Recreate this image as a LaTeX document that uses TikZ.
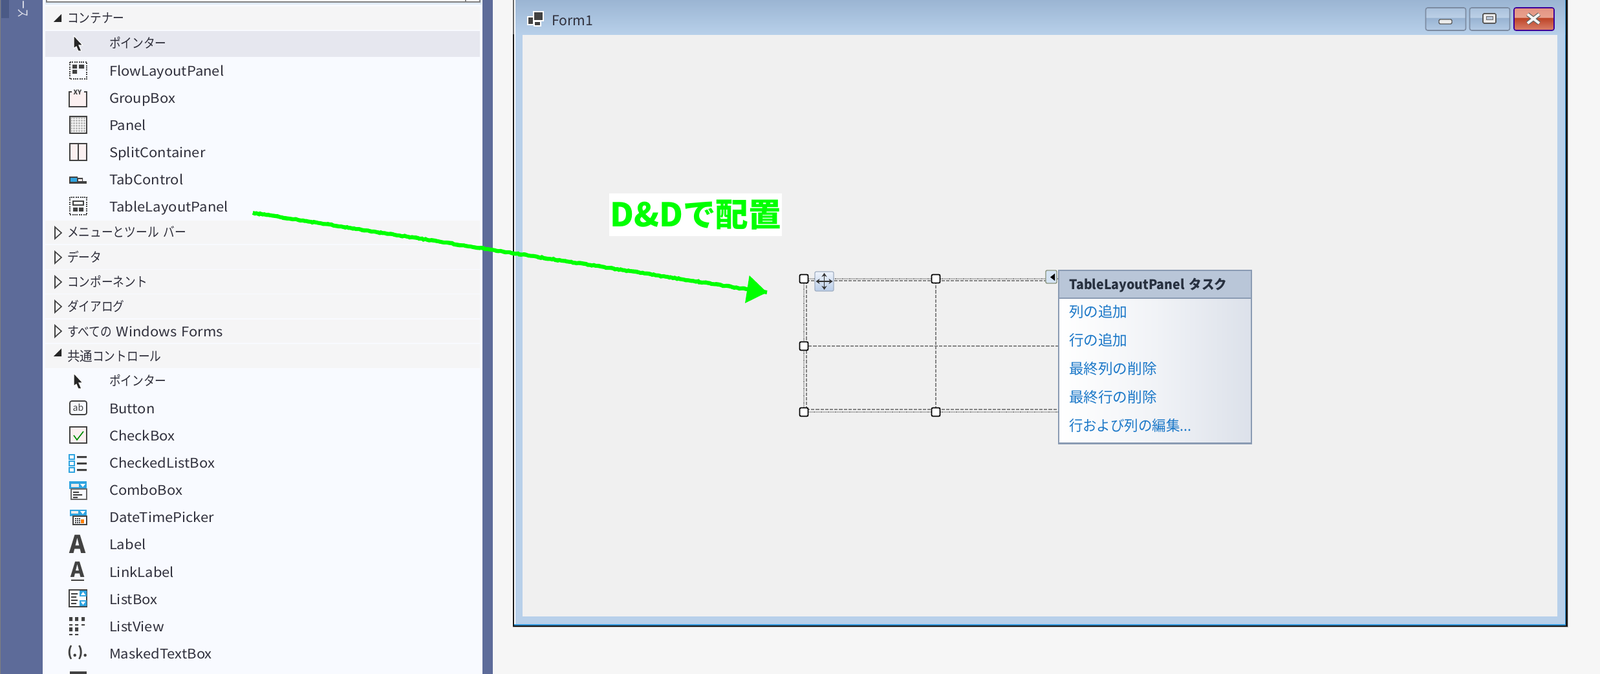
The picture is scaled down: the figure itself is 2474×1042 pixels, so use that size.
\documentclass[tikz,border=0pt]{standalone}
\usepackage{fontspec}
\setmainfont{Noto Sans CJK JP}
\newfontfamily\latinfont[FakeStretch=1.07]{Noto Sans CJK JP}
\newfontfamily\kanafont[FakeStretch=.86]{Noto Sans CJK JP}
\newfontfamily\taskfont[FakeStretch=.95]{Noto Sans CJK JP}
\newfontfamily\sidefont[FakeStretch=.68]{Noto Sans CJK JP}
\usetikzlibrary{arrows,arrows.meta,decorations.pathmorphing,positioning,shapes}

\definecolor{pagebg}{HTML}{F6F6F6}
\definecolor{sidebar}{HTML}{5D6B99}
\definecolor{sidetab}{HTML}{4B5A86}
\definecolor{toolbg}{HTML}{F8FAFF}
\definecolor{catbg}{HTML}{F5F5F6}
\definecolor{selrow}{HTML}{E6E7EF}
\definecolor{ink}{HTML}{30303C}
\definecolor{icondark}{HTML}{424242}
\definecolor{iconblue}{HTML}{2FA4E0}
\definecolor{iconpink}{HTML}{FBF0F0}
\definecolor{frameblue}{HTML}{B8D0EA}
\definecolor{titletop}{HTML}{9BB5D3}
\definecolor{clientbg}{HTML}{F0F0F0}
\definecolor{gridgray}{HTML}{858585}
\definecolor{taskhead}{HTML}{B9C6D8}
\definecolor{taskedge}{HTML}{8A9BB3}
\definecolor{taskside}{HTML}{DCE1EA}
\definecolor{tasklink}{HTML}{1C78C8}
\definecolor{taskink}{HTML}{27303F}
\definecolor{movetop}{HTML}{EEF3FB}
\definecolor{movelow}{HTML}{B8CCE8}
\definecolor{dragcol}{HTML}{00FF00}
\definecolor{btnlow}{HTML}{B4CBE5}
\definecolor{btnmid}{HTML}{97B2D1}
\definecolor{btnhigh}{HTML}{BCD0E7}
\definecolor{btntop}{HTML}{A9C1DC}
\definecolor{redlow}{HTML}{DB826C}
\definecolor{redmid}{HTML}{BC4225}
\definecolor{redhigh}{HTML}{E8A18F}
\definecolor{redtop}{HTML}{E39381}

\pgfdeclareverticalshading{bluebutton}{100bp}{color(0bp)=(btnlow);
  color(25bp)=(btnlow); color(53bp)=(btnmid); color(53.5bp)=(btnhigh);
  color(75bp)=(btntop); color(100bp)=(btntop)}
\pgfdeclareverticalshading{redbutton}{100bp}{color(0bp)=(redlow);
  color(25bp)=(redlow); color(53bp)=(redmid); color(53.5bp)=(redhigh);
  color(75bp)=(redtop); color(100bp)=(redtop)}

\tikzset{
  tool item/.style={text width=280pt,inner sep=0pt,align=left,text=ink,
    font=\fontsize{10.3}{12}\selectfont\latinfont,text height=9pt,text depth=1pt,node distance=21.08pt},
  cat item/.style={text width=302pt,inner ysep=0pt,inner xsep=17pt,minimum height=18.4pt,align=left,
    fill=catbg,text=ink,font=\fontsize{10.3}{12}\selectfont\kanafont,text height=9pt,text depth=1pt,node distance=19.13pt},
  icon text/.style={inner sep=0pt,text=icondark},
  win button/.style={draw,shade,minimum width=31pt,minimum height=17.5pt,inner sep=0pt,rounded corners=1.5pt,line width=.8pt},
  grip/.style={draw=black,fill=white,rounded corners=1pt,line width=.9pt,minimum size=6.5pt,inner sep=0pt},
  dot line/.style={draw=gridgray,line width=1pt,dash pattern=on .6pt off .5pt},
  dash line/.style={draw=gridgray,line width=.8pt,dash pattern=on 2.6pt off 1pt},
  icon dots/.style={draw=icondark,line width=1pt,dash pattern=on 1pt off .7pt},
  task item/.style={text width=133pt,inner sep=0pt,align=left,text=tasklink,
    font=\fontsize{11.3}{13}\selectfont,text height=9pt,text depth=1pt,node distance=21.9pt},
  drag arrow/.style={draw=dragcol,line width=2.6pt,-{Triangle[length=15.5pt,width=21pt]},
    preaction={draw=dragcol,-,decorate,decoration={random steps,segment length=1.5pt,amplitude=.45pt},line width=3pt}}
}

\begin{document}
\begin{tikzpicture}[x=.5pt,y=-.5pt]
	\useasboundingbox (0,0) rectangle (2474,1042);
	\fill[pagebg] (0,0) rectangle (2474,1042);

	% toolbox side
	\fill[sidebar] (0,0) rectangle (66,1042);
	\fill[gray] (0,0) rectangle (1,1042);
	\fill[sidetab] (2,0) rectangle (14,28);
	\node[rotate=-90,text=white!80!sidebar,inner sep=0pt,font=\fontsize{10.3}{12}\selectfont\sidefont] (sidelabel) at (36,14) {ース};
	\fill[toolbg] (66,0) rectangle (746,1042);
	\fill[sidebar] (746,0) rectangle (762,1042);
	\fill[frameblue!45!white] (70,0) rectangle (745,7);
	\filldraw[fill=white,draw=gray,line width=.7pt] (72,-4) rectangle (720,3);
	\filldraw[fill=white,draw=gray,line width=.7pt] (720,-4) rectangle (742,3);
	\fill[selrow] (70,48) rectangle (742,88);

	% categories
	\node[cat item] (containers) at (406,28) {コンテナー};
	\node[cat item] (menus) at (406,359) {メニューとツール バー};
	\node[cat item] (datas) [below of=menus] {データ};
	\node[cat item] (comps) [below of=datas] {コンポーネント};
	\node[cat item] (dialogs) [below of=comps] {ダイアログ};
	\node[cat item] (allforms) [below of=dialogs] {すべての {\latinfont Windows Forms}};
	\node[cat item] (commons) [below of=allforms] {{\taskfont 共通}コントロール};

	\fill[black!85] (95,22) -- (95,34) -- (83,34) -- cycle;
	\fill[black!85] (95,539) -- (95,551) -- (83,551) -- cycle;
	\draw[icondark,line width=.8pt] (85,351) -- (95,360) -- (85,369) -- cycle;
	\draw[icondark,line width=.8pt] (85,389) -- (95,398) -- (85,407) -- cycle;
	\draw[icondark,line width=.8pt] (85,427) -- (95,436) -- (85,445) -- cycle;
	\draw[icondark,line width=.8pt] (85,465) -- (95,474) -- (85,483) -- cycle;
	\draw[icondark,line width=.8pt] (85,503) -- (95,512) -- (85,521) -- cycle;

	% items
	\node[tool item] (pointera) at (449,67) {{\kanafont ポインター}};
	\node[tool item] (flow) [below of=pointera] {FlowLayoutPanel};
	\node[tool item] (group) [below of=flow] {GroupBox};
	\node[tool item] (panel) [below of=group] {Panel};
	\node[tool item] (split) [below of=panel] {SplitContainer};
	\node[tool item] (tabs) [below of=split] {TabControl};
	\node[tool item] (tablepanel) [below of=tabs] {TableLayoutPanel};

	\node[tool item] (pointerb) at (449,589) {{\kanafont ポインター}};
	\node[tool item] (button) [below of=pointerb] {Button};
	\node[tool item] (check) [below of=button] {CheckBox};
	\node[tool item] (checklist) [below of=check] {CheckedListBox};
	\node[tool item] (combo) [below of=checklist] {ComboBox};
	\node[tool item] (datepick) [below of=combo] {DateTimePicker};
	\node[tool item] (label) [below of=datepick] {Label};
	\node[tool item] (linklabel) [below of=label] {LinkLabel};
	\node[tool item] (listbox) [below of=linklabel] {ListBox};
	\node[tool item] (listview) [below of=listbox] {ListView};
	\node[tool item] (masked) [below of=listview] {MaskedTextBox};

	% icons
	\filldraw[fill=black!85,draw=white,line width=.5pt] (114,55) -- (128,70) -- (122,70) -- (126,79) -- (121,79) -- (118,72) -- (114,75) -- cycle;
	\draw[icon dots] (108,96) rectangle (134,122);
	\fill[icondark] (112,100) rectangle (119,106) (122,100) rectangle (130,106) (112,108) rectangle (119,114);

	\filldraw[fill=iconpink,draw=icondark,line width=.8pt] (111,142) -- (107,142) -- (107,165) -- (134,165) -- (134,142) -- (130,142);
	\node[icon text,font=\fontsize{5}{5}\selectfont\bfseries] (xymark) at (120,143) {XY};
	\filldraw[fill=white!75!black,draw=icondark,line width=.9pt] (108,180) rectangle (134,206);
	\draw[step=2pt,white,line width=.4pt] (110,182) grid (132,204);
	\filldraw[fill=iconpink,draw=icondark,line width=.9pt] (108,222) rectangle (134,248);
	\draw[icondark,line width=.9pt] (121,222) -- (121,248);
	\fill[icondark] (107,280) rectangle (134,284);
	\fill[icondark] (107,273) rectangle (120,280) (120,275) rectangle (128,280);
	\fill[iconblue] (109,275) rectangle (119,281);
	\fill[iconpink] (121,277) rectangle (127,280);
	\draw[icon dots] (108,305) rectangle (134,332);
	\draw[icondark,line width=.8pt] (113,311) rectangle (129,317);
	\fill[icondark] (113,321) rectangle (120,327) (122,321) rectangle (129,327);

	\filldraw[fill=black!85,draw=white,line width=.5pt] (114,577) -- (128,592) -- (122,592) -- (126,601) -- (121,601) -- (118,594) -- (114,597) -- cycle;
	\draw[icondark,line width=.9pt,rounded corners=1.5pt] (108,620) rectangle (134,641);
	\node[icon text,font=\fontsize{7}{7}\selectfont] (abmark) at (121,630) {ab};
	\filldraw[fill=iconpink,draw=icondark,line width=.9pt] (108,660) rectangle (134,685);
	\draw[green!55!black,line width=.8pt] (114,673) -- (119,680) -- (129,667);
	\draw[iconblue,line width=.8pt] (107,703) rectangle (115,710) (107,713) rectangle (115,720) (107,723) rectangle (115,730);
	\fill[icondark] (119,705) rectangle (134,708) (119,715) rectangle (134,718) (119,725) rectangle (134,728);

	\fill[iconblue] (107,744) rectangle (134,756);
	\fill[white!85!gray] (110,748) rectangle (122,753);
	\fill[white] (124,748) -- (132,748) -- (128,753) -- cycle;
	\draw[icondark!80,line width=.8pt] (110,756) rectangle (134,772);
	\fill[icondark] (113,760) rectangle (122,762) (113,764) rectangle (127,766) (113,768) rectangle (120,770);

	\fill[iconblue] (108,788) rectangle (134,798);
	\fill[white!85!gray] (110,790) rectangle (121,794);
	\fill[white] (124,790) -- (132,790) -- (128,795) -- cycle;
	\draw[icondark,line width=.8pt] (113,798) rectangle (134,811);
	\draw[icondark,line width=.8pt,dash pattern=on .8pt off .8pt] (116,802) -- (125,802) (116,805) -- (125,805) (116,808) -- (125,808);
	\fill[orange] (125,803) rectangle (130,809);

	\node[icon text,font=\fontsize{19}{19}\selectfont\bfseries] (bigA) at (120,841) {A};
	\node[icon text,font=\fontsize{16}{16}\selectfont\bfseries] (linkA) at (120,881) {A};
	\draw[icondark,line width=1pt] (110,897) -- (130,897);

	\filldraw[fill=white,draw=icondark,line width=.9pt] (107,912) rectangle (134,938);
	\fill[iconblue] (123,913) rectangle (134,922) (123,928) rectangle (134,937);
	\fill[white] (125,920) -- (132,920) -- (128.5,915) -- cycle;
	\fill[white] (125,930) -- (132,930) -- (128.5,935) -- cycle;
	\fill[icondark] (110,917) rectangle (120,919) (110,922) rectangle (118,924) (110,927) rectangle (120,929) (110,932) rectangle (118,934);
	\fill[icondark] (107,954) rectangle (112,960) (116,954) rectangle (121,960) (126,954) rectangle (131,960);
	\fill[icondark] (107,965) rectangle (112,967) (116,965) rectangle (121,967) (126,965) rectangle (131,967);
	\fill[icondark] (107,970) rectangle (112,976) (116,970) rectangle (121,976);
	\fill[icondark] (107,980) rectangle (112,982) (116,980) rectangle (121,982);
	\node[icon text,font=\fontsize{10.5}{11}\selectfont\bfseries] (maskmark) at (120,1009) {(.).};
	\fill[icondark] (108,1038) rectangle (134,1042);

	% form
	\fill[black!25] (793,-5) rectangle (2425,970);
	\fill[black!90] (793,-5) rectangle (2424,969);
	\fill[black!60] (793,-5) rectangle (795,53);
	\fill[cyan!70!blue!85] (795,-5) rectangle (2421,967);
	\fill[white] (795,-5) rectangle (797,965);
	\fill[frameblue] (797,-5) rectangle (2420,965);
	\shade[top color=titletop,bottom color=frameblue] (797,0) rectangle (2420,54);
	\fill[clientbg] (808,54) rectangle (2408,953);

	\filldraw[fill=icondark,draw=white,line width=.7pt] (825,18) rectangle (840,32);
	\filldraw[fill=icondark,draw=white,line width=.7pt] (816,26) rectangle (825,38);
	\filldraw[fill=icondark,draw=white,line width=.7pt] (826,33) rectangle (836,40);
	\node[inner sep=0pt,anchor=west,text=ink,font=\fontsize{10.6}{12}\selectfont] (formtitle) at (853,32) {Form1};

	\node[win button,shading=bluebutton,draw=taskedge!90!black] (minbtn) at (2235.5,29.5) {};
	\node[win button,shading=bluebutton,draw=taskedge!90!black] (maxbtn) at (2303.5,29.5) {};
	\node[win button,shading=redbutton,draw=black!40!red!40!blue] (closebtn) at (2372,29.5) {};
	\filldraw[fill=white!85!gray,draw=black!65,line width=.7pt,rounded corners=.8pt] (2225,30) rectangle (2245,37);
	\filldraw[fill=white!85!gray,draw=black!65,line width=.8pt,rounded corners=.8pt] (2293,21) rectangle (2313,36);
	\filldraw[fill=taskhead,draw=black!60,line width=.5pt] (2298,26) rectangle (2308,31);
	\draw[black!60,line width=3.2pt] (2362,22) -- (2380,36) (2380,22) -- (2362,36);
	\draw[white!92!gray,line width=1.9pt] (2362,22) -- (2380,36) (2380,22) -- (2362,36);

	% table layout panel
	\coordinate (cornera) at (1243,431);
	\coordinate (cornerb) at (1447,431);
	\coordinate (cornerc) at (1243,535);
	\coordinate (cornerd) at (1243,637);
	\coordinate (cornere) at (1447,637);
	\coordinate (gridtop) at (1636,434);
	\coordinate (gridmid) at (1636,535);
	\coordinate (gridbot) at (1636,633);
	\coordinate (celltop) at (1447,434);
	\coordinate (cellbot) at (1447,633);
	\coordinate (edgetop) at (1247,434);
	\coordinate (edgebot) at (1247,633);
	\coordinate (outera) at (1636,431);
	\coordinate (outerb) at (1636,637);
	\draw[dot line] (cornera) -- (outera);
	\draw[dot line] (cornerd) -- (outerb);
	\draw[dot line] (cornera) -- (cornerd);
	\draw[dash line] (edgetop) -- (gridtop);
	\draw[dash line] (edgebot) -- (gridbot);
	\draw[dash line] (edgetop) -- (edgebot);
	\draw[dash line] (cornerc) -- (gridmid);
	\draw[dash line] (celltop) -- (cellbot);
	\node[grip] (gripa) at (cornera) {};
	\node[grip] (gripb) at (cornerb) {};
	\node[grip] (gripc) at (cornerc) {};
	\node[grip] (gripd) at (cornerd) {};
	\node[grip] (gripe) at (cornere) {};
	\node[draw=taskedge!70!olive,fill=frameblue!60!white,rounded corners=1pt,line width=.7pt,minimum width=8.5pt,minimum height=10pt,inner sep=0pt] (smarttag) at (1625.5,428) {};
	\fill[black] (1631,423) -- (1631,434) -- (1624,428.5) -- cycle;

	\node[draw=taskedge,fill=taskhead,line width=1pt,minimum width=149pt,minimum height=21.5pt,inner xsep=8pt,inner ysep=0pt,text width=133pt,
		align=left,text=taskink,text height=9pt,text depth=1pt,font=\fontsize{10.3}{12}\selectfont\taskfont\bfseries] (taskbar) at (1786,439.5) {TableLayoutPanel タスク};
	\node[draw=taskedge,left color=white,right color=taskside,middle color=white!60!taskside,line width=1pt,minimum width=149pt,minimum height=112pt,inner sep=0pt] (taskbox) at (1786,573.5) {};

	\node[draw=taskedge!80!white,top color=movetop,bottom color=movelow,rounded corners=1pt,line width=.6pt,minimum width=14.5pt,minimum height=15pt,inner sep=0pt] (mover) at (1274.5,435) {};
	\draw[{Stealth[length=3pt,width=4pt]}-{Stealth[length=3pt,width=4pt]},black!80,line width=.7pt] (mover.center) ++(-13,0) coordinate (movew) -- ++(26,0) coordinate (movee);
	\draw[{Stealth[length=3pt,width=4pt]}-{Stealth[length=3pt,width=4pt]},black!80,line width=.7pt] (mover.center) ++(0,-13) coordinate (moven) -- ++(0,26) coordinate (moves);

	\node[task item] (addcol) at (1786,483) {列の追加};
	\node[task item] (addrow) [below of=addcol] {行の追加};
	\node[task item] (delcol) [below of=addrow] {最終列の削除};
	\node[task item] (delrow) [below of=delcol] {最終行の削除};
	\node[task item] (editall) [below of=delrow] {{\taskfont 行および列の編集...}};

	% drag hint
	\node[fill=white,text=dragcol,minimum width=133.5pt,minimum height=33pt,inner sep=0pt,font=\fontsize{25.3}{27}\selectfont\bfseries] (ddlabel) at (1075.5,332) {D\&Dで配置};
	\coordinate (dragfrom) at (391,329);
	\coordinate (dragto) at (1186,452);
	\path[drag arrow] (dragfrom) -- (dragto);
\end{tikzpicture}
\end{document}
